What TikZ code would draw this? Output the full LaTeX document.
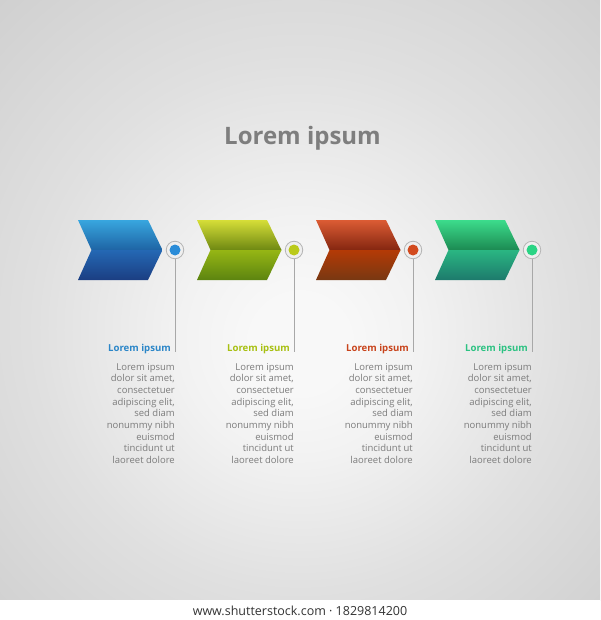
\documentclass[tikz,border=0pt]{standalone}
\usepackage{fontspec}
\setmainfont{Open Sans}
\definecolor{bgin}{HTML}{F8F8F8}
\definecolor{bgmid}{HTML}{F2F2F2}
\definecolor{bgmid2}{HTML}{E0E0E0}
\definecolor{bgmid3}{HTML}{CECECE}
\definecolor{bgout}{HTML}{C5C5C5}
\definecolor{titlec}{HTML}{7E7E7E}
\definecolor{bodyc}{HTML}{7C7C7C}
\definecolor{stemc}{HTML}{A8A8A8}
\definecolor{ringc}{HTML}{B4B4B4}
\definecolor{ringf}{HTML}{EFEFEF}
% blue
\definecolor{t1}{HTML}{38A6DF}\definecolor{m1}{HTML}{1E64A4}
\definecolor{u1}{HTML}{2468B4}\definecolor{d1}{HTML}{1B3E82}
\definecolor{dot1}{HTML}{2A8CD8}\definecolor{lab1}{HTML}{2B86C8}
% yellow green
\definecolor{t2}{HTML}{D6DE38}\definecolor{m2}{HTML}{6E8812}
\definecolor{u2}{HTML}{96B614}\definecolor{d2}{HTML}{5C8410}
\definecolor{dot2}{HTML}{BACA1A}\definecolor{lab2}{HTML}{A8C012}
% red
\definecolor{t3}{HTML}{DC5C34}\definecolor{m3}{HTML}{842610}
\definecolor{u3}{HTML}{B43A06}\definecolor{d3}{HTML}{783812}
\definecolor{dot3}{HTML}{D24A1E}\definecolor{lab3}{HTML}{C8441C}
% green
\definecolor{t4}{HTML}{3CDC8C}\definecolor{m4}{HTML}{1C8A52}
\definecolor{u4}{HTML}{2AB682}\definecolor{d4}{HTML}{1D7A6C}
\definecolor{dot4}{HTML}{2AD484}\definecolor{lab4}{HTML}{2CC282}
\pgfdeclareradialshading{bgshade}{\pgfpoint{0bp}{-4bp}}{color(0bp)=(bgin); color(4bp)=(bgin); color(10bp)=(bgmid); color(22bp)=(bgmid2); color(38bp)=(bgmid3); color(50bp)=(bgout)}
\tikzset{
  titletext/.style={font=\fontsize{24}{28}\selectfont\bfseries, text=titlec, inner sep=0pt},
  labtext/.style={font=\fontsize{9.6}{11.7}\selectfont\bfseries, inner sep=0pt, anchor=base east},
  bodytext/.style={font=\fontsize{9.5}{11.7}\selectfont, text=bodyc, inner sep=0pt, anchor=base east},
  ring/.style={circle, minimum size=17.5pt, inner sep=0pt, fill=ringf, draw=ringc, line width=0.8pt},
  dotc/.style={circle, minimum size=11pt, inner sep=0pt},
  stem/.style={draw=stemc, line width=0.9pt},
  foottext/.style={font=\fontsize{12.5}{14}\selectfont, text=black!80, inner sep=0pt}
}
\begin{document}
\begin{tikzpicture}[x=1pt,y=-1pt]
\useasboundingbox (0,0) rectangle (600,620);
\fill[bgout] (0,0) rectangle (600,600);
\shade[shading=bgshade] (0,0) rectangle (600,600);
\fill[white] (0,600) rectangle (600,620);

\node[titletext, anchor=base] (title) at (302.5,145) {Lorem ipsum};

\foreach \i/\x in {1/78,2/197,3/316,4/435}{
  \shade[top color=t\i, bottom color=m\i] (\x,220) -- ({\x+70},220) -- ({\x+84.5},250) -- ({\x+13.5},250) -- cycle;
  \shade[top color=u\i, bottom color=d\i] ({\x+13.5},250) -- ({\x+84.5},250) -- ({\x+70},280) -- (\x,280) -- cycle;
  \node[ring] (ring\i) at ({\x+97},250) {};
  \node[dotc, fill=dot\i] (dot\i) at (ring\i.center) {};
  \coordinate (end\i) at ({\x+97},352);
  \draw[stem] (ring\i.south) -- (end\i);
  \node[labtext, text=lab\i] (lab\i) at ({\x+93},351.5) {Lorem ipsum};
  \foreach \t [count=\j] in {Lorem ipsum,{dolor sit amet,},consectetuer,{adipiscing elit,},sed diam,nonummy nibh,euismod,tincidunt ut,laoreet dolore}{
    \node[bodytext] (body\i-\j) at ({\x+97},{370+(\j-1)*11.7}) {\t};
  }
}

\node[foottext, anchor=base] (foot) at (300,615) {www.shutterstock.com · 1829814200};
\end{tikzpicture}
\end{document}
